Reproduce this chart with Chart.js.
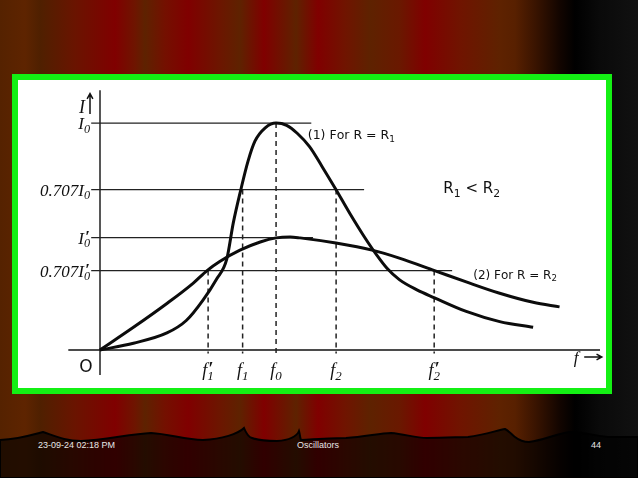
<!DOCTYPE html>
<html>
<head>
<meta charset="utf-8">
<script src="https://cdn.jsdelivr.net/npm/chart.js@4"></script>
<style>
  html, body { margin: 0; padding: 0; }
  body {
    width: 638px; height: 478px; overflow: hidden; position: relative;
    background: linear-gradient(to right, #552200 0px, #5e2400 25px, #4f2000 40px, #6a1400 75px, #800000 115px,
      #6e1500 135px, #5e2200 145px, #741000 165px, #800000 188px, #6c1600 220px, #5e2200 240px, #800000 264px,
      #5e2200 296px, #800000 318px, #701400 345px, #5e2200 370px, #6a1800 400px, #800000 425px, #701400 460px,
      #5e2200 500px, #582000 515px, #3a1400 535px, #120500 560px, #000 575px, #0a0a0a 600px, #111 638px);
    font-family: "Liberation Sans", Arial, sans-serif;
  }
  .wave { position: absolute; left: 0; top: 0; }
  .frame {
    position: absolute; left: 12px; top: 74px; width: 588px; height: 308px;
    border: 6px solid #14f014; background: #fff;
  }
  .foot { position: absolute; top: 439px; font-size: 9px; color: #e6e6e6; line-height: 12px; }
</style>
</head>
<body>
<svg class="wave" width="638" height="478" viewBox="0 0 638 478">
  <path d="M0 440 C20 439 35 434 43 432 C55 436 65 441 81 441 C105 440 130 434 151 433 C170 434 185 440 203 440
           C222 439 238 434 244 428 C246 433 248 437 252 438 C260 441 270 441 277 441 C290 440 297 436 299 431
           C300 434 300 438 301 440 C320 439 335 438 346 438 C365 437 380 433 391 433 C405 434 415 438 427 438
           C445 438 460 437 468 437 C485 435 498 430 505 429 C509 431 512 435 515 437 C520 441 525 442 529 442
           C545 440 558 433 570 432 C585 432 600 437 610 437 L638 437 L638 478 L0 478 Z"
        fill="rgba(0,0,0,0.62)" stroke="#000" stroke-width="2"/>
</svg>
<div class="foot" style="left:38px;">23-09-24 02:18 PM</div>
<div class="foot" style="left:297px;">Oscillators</div>
<div class="foot" style="left:591px;">44</div>

<div class="frame">
  <canvas id="chart" width="588" height="308"></canvas>
</div>

<script>
// curve (1), R = R1 : sharp resonance
const r1Freq    = [0, 0.19, 0.38, 0.49, 0.585, 0.66, 0.72, 0.757, 0.8, 0.84, 0.88, 0.94, 1.0, 1.06, 1.12, 1.19, 1.26, 1.34, 1.42, 1.5, 1.57, 1.63, 1.7, 1.8, 1.9, 2.08, 2.27, 2.46];
const r1Current = [0, 0.03, 0.075, 0.13, 0.22, 0.31, 0.40, 0.56, 0.707, 0.83, 0.92, 0.98, 1.0, 0.99, 0.955, 0.896, 0.81, 0.707, 0.60, 0.50, 0.42, 0.36, 0.31, 0.265, 0.23, 0.17, 0.125, 0.10];

// curve (2), R = R2 : flat resonance
const r2Freq    = [0, 0.19, 0.38, 0.53, 0.608, 0.68, 0.795, 0.91, 1.0, 1.08, 1.136, 1.34, 1.545, 1.70, 1.90, 2.08, 2.27, 2.46, 2.61];
const r2Current = [0, 0.10, 0.205, 0.295, 0.35, 0.39, 0.44, 0.476, 0.494, 0.498, 0.494, 0.471, 0.44, 0.405, 0.35, 0.30, 0.25, 0.21, 0.19];

// horizontal levels on the current axis
const levelValues = [1, 0.707, 0.495, 0.35];
const levelEnds   = [1.2, 1.5, 1.21, 2.0];
const levelLabels = ['I₀', '0.707I₀', 'I₀′', '0.707I₀′'];

// marked frequencies
const markFreqs  = [0.614, 0.81, 1.0, 1.341, 1.898];
const markTops   = [0.35, 0.707, 1.0, 0.707, 0.35];
const markLabels = ['f₁′', 'f₁', 'f₀', 'f₂', 'f₂′'];

const SUB = { '₀': '0', '₁': '1', '₂': '2' };
const MATH = '"Liberation Serif", "DejaVu Serif", serif';
const HAND = '"DejaVu Sans", sans-serif';

function drawRich(ctx, text, x, y, size, align, family, italic) {
  const runs = [];
  for (const ch of text) {
    if (SUB[ch] !== undefined) runs.push({ t: SUB[ch], k: 'sub' });
    else if (ch === '′') runs.push({ t: '′', k: 'sup' });
    else runs.push({ t: ch, k: 'n' });
  }
  const font = s => (italic ? 'italic ' : '') + s + 'px ' + family;
  runs.forEach(r => {
    r.s = r.k === 'n' ? size : r.k === 'sup' ? size : size * 0.72;
    ctx.font = font(r.s);
    r.w = ctx.measureText(r.t).width;
  });
  let cx = 0, prev = null;
  runs.forEach(r => {
    if (r.k === 'sup' && prev && prev.k === 'sub') { r.x = prev.x + 1; cx = Math.max(cx, r.x + r.w); }
    else { r.x = cx; cx += r.w; }
    prev = r;
  });
  const x0 = align === 'right' ? x - cx : align === 'center' ? x - cx / 2 : x;
  ctx.textAlign = 'left';
  ctx.textBaseline = 'alphabetic';
  runs.forEach(r => {
    ctx.font = (r.k === 'sup' ? 'bold ' : '') + font(r.s);
    const dy = r.k === 'sub' ? size * 0.22 : r.k === 'sup' ? -size * 0.08 : 0;
    ctx.fillText(r.t, x0 + r.x, y + dy);
  });
}

function arrow(ctx, x1, y1, x2, y2) {
  const a = Math.atan2(y2 - y1, x2 - x1);
  ctx.beginPath();
  ctx.moveTo(x1, y1); ctx.lineTo(x2, y2);
  ctx.moveTo(x2 - 6 * Math.cos(a - 0.5), y2 - 6 * Math.sin(a - 0.5));
  ctx.lineTo(x2, y2);
  ctx.lineTo(x2 - 6 * Math.cos(a + 0.5), y2 - 6 * Math.sin(a + 0.5));
  ctx.stroke();
}

const sketchPlugin = {
  id: 'sketch',
  beforeDatasetsDraw(chart) {
    const { ctx, scales: { x, y } } = chart;
    ctx.save();
    ctx.strokeStyle = '#111';
    ctx.lineWidth = 1.4;
    ctx.beginPath();
    ctx.moveTo(x.getPixelForValue(-0.18), y.getPixelForValue(0));
    ctx.lineTo(x.getPixelForValue(2.84), y.getPixelForValue(0));
    ctx.moveTo(x.getPixelForValue(0), y.getPixelForValue(1.145));
    ctx.lineTo(x.getPixelForValue(0), y.getPixelForValue(-0.11));
    ctx.stroke();
    ctx.restore();
  },
  afterDraw(chart) {
    const { ctx, scales: { x, y } } = chart;
    const x0 = x.getPixelForValue(0), y0 = y.getPixelForValue(0);
    ctx.save();
    ctx.fillStyle = '#111';
    ctx.strokeStyle = '#111';
    ctx.lineWidth = 1.5;

    levelLabels.forEach((t, i) => {
      drawRich(ctx, t, x0 - 10, y.getPixelForValue(levelValues[i]) + 6, 17, 'right', MATH, true);
    });
    markLabels.forEach((t, i) => {
      drawRich(ctx, t, x.getPixelForValue(markFreqs[i]), y0 + 26, 18, 'center', MATH, true);
    });

    // origin and axis names
    ctx.font = '17px "DejaVu Sans", sans-serif';
    ctx.textAlign = 'center';
    ctx.textBaseline = 'alphabetic';
    ctx.fillText('O', x0 - 14, y0 + 22);
    drawRich(ctx, 'I', x0 - 21, y.getPixelForValue(1.045), 18, 'left', MATH, true);
    arrow(ctx, x0 - 10, y.getPixelForValue(1.04), x0 - 10, y.getPixelForValue(1.13));
    drawRich(ctx, 'f', x.getPixelForValue(2.69), y0 + 13, 17, 'left', MATH, true);
    arrow(ctx, x.getPixelForValue(2.75), y0 + 7, x.getPixelForValue(2.85), y0 + 7);

    // curve notes
    drawRich(ctx, '(1) For R = R₁', x.getPixelForValue(1.18), y.getPixelForValue(0.93), 12.5, 'left', HAND, false);
    drawRich(ctx, 'R₁ < R₂', x.getPixelForValue(1.95), y.getPixelForValue(0.69), 15, 'left', HAND, false);
    drawRich(ctx, '(2) For R = R₂', x.getPixelForValue(2.12), y.getPixelForValue(0.315), 12, 'left', HAND, false);
    ctx.restore();
  }
};

const datasets = [];
levelValues.forEach((v, i) => {
  datasets.push({
    data: [{ x: -0.05, y: v }, { x: levelEnds[i], y: v }],
    borderColor: '#222', borderWidth: 1.2, pointRadius: 0, clip: false, order: 3
  });
});
markFreqs.forEach((f, i) => {
  datasets.push({
    data: [{ x: f, y: markTops[i] }, { x: f, y: -0.015 }],
    borderColor: '#222', borderWidth: 1.5, borderDash: [5, 4], pointRadius: 0, clip: false, order: 2
  });
});
datasets.push({
  data: r1Freq.map((f, i) => ({ x: f, y: r1Current[i] })),
  borderColor: '#0c0c0c', borderWidth: 3, pointRadius: 0, cubicInterpolationMode: 'monotone', clip: false, order: 1
});
datasets.push({
  data: r2Freq.map((f, i) => ({ x: f, y: r2Current[i] })),
  borderColor: '#0c0c0c', borderWidth: 3, pointRadius: 0, cubicInterpolationMode: 'monotone', clip: false, order: 1
});

new Chart(document.getElementById('chart'), {
  type: 'line',
  data: { datasets: datasets },
  options: {
    responsive: false,
    animation: false,
    layout: { padding: { left: 82, right: 13, top: 9, bottom: 38 } },
    plugins: { legend: { display: false }, tooltip: { enabled: false } },
    scales: {
      x: { type: 'linear', min: 0, max: 2.8, display: false },
      y: { type: 'linear', min: 0, max: 1.15, display: false }
    }
  },
  plugins: [sketchPlugin]
});
</script>
</body>
</html>
